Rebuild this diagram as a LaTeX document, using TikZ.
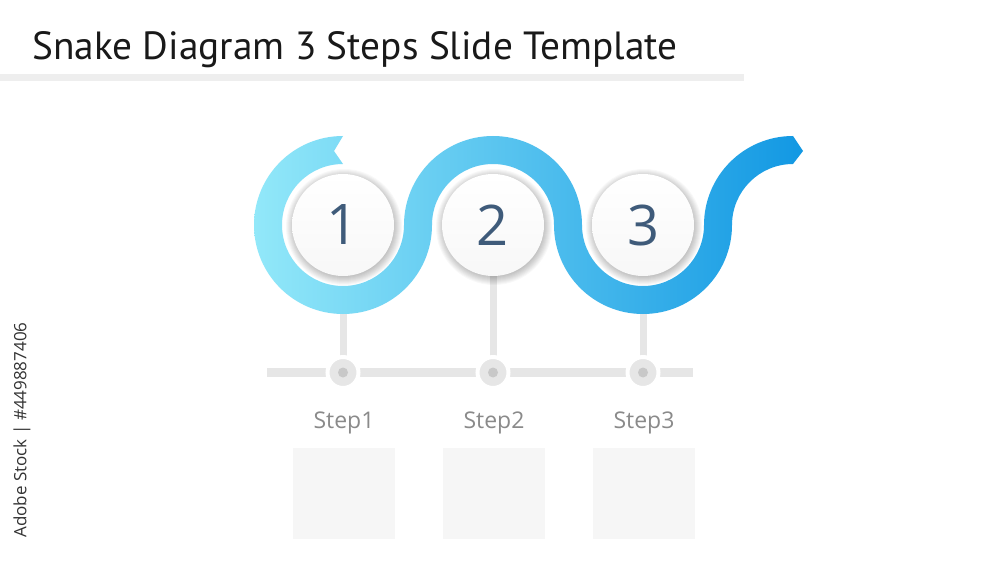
\documentclass[tikz,border=0pt]{standalone}
\usepackage{graphicx}
\usepackage{fontspec}
\setmainfont{Open Sans}
\newfontfamily\titlefont{PT Sans}
\usetikzlibrary{calc}
\pgfdeclarelayer{bg}
\pgfsetlayers{bg,main}
\definecolor{snakeL}{HTML}{92E8F9}
\definecolor{snakeR}{HTML}{1298E3}
\definecolor{numcol}{HTML}{3F5B7A}
\definecolor{linegray}{HTML}{E6E6E6}
\definecolor{dotin}{HTML}{C8C8C8}
\definecolor{labgray}{HTML}{8A8A8A}
\definecolor{boxgray}{HTML}{F6F6F6}
\definecolor{bargray}{HTML}{EEEEEE}
\definecolor{marktext}{HTML}{333333}
\tikzset{
  numcirc/.style={circle, minimum size=102pt, inner sep=0pt, top color=white, bottom color=black!3,
    text=numcol, font=\fontsize{56}{60}\selectfont},
  stemline/.style={draw=linegray, line width=7pt},
  hline/.style={draw=linegray, line width=9pt},
  dotnode/.style={circle, fill=linegray, draw=white, line width=4pt, minimum size=31pt, inner sep=0pt},
  steplabel/.style={text=labgray, inner sep=0pt, font=\fontsize{23}{26}\selectfont},
  textbox/.style={fill=boxgray, minimum width=102pt, minimum height=91pt, inner sep=0pt},
}
\begin{document}
\begin{tikzpicture}[x=1pt,y=1pt]
\useasboundingbox (0,0) rectangle (1000,563);
\begin{pgfonlayer}{bg}
\fill[white] (0,0) rectangle (1000,563);
\end{pgfonlayer}
% title and bar
\fill[bargray] (0,482) rectangle (744,489);
\node[anchor=base west, inner sep=0pt, text=black!90] (title) at (32,503)
  {\resizebox{645pt}{!}{\titlefont Snake Diagram 3 Steps Slide Template}};
% snake ribbon
\shade[left color=snakeL, right color=snakeR]
 (343,427) arc[start angle=90, end angle=360, radius=89]
 arc[start angle=180, end angle=0, radius=61]
 arc[start angle=180, end angle=360, radius=89]
 arc[start angle=180, end angle=90, radius=61]
 -- (803,412) -- (793,427)
 arc[start angle=90, end angle=180, radius=89]
 arc[start angle=360, end angle=180, radius=61]
 arc[start angle=0, end angle=180, radius=89]
 arc[start angle=360, end angle=90, radius=61]
 -- (334,412) -- cycle;
% circle shadows
\foreach \c in {343,493,643}{
  \foreach \i in {1,...,9}{
    \fill[black, opacity=0.026] (\c+1,336) circle (49+\i);
  }
}
% numbered circles
\node[numcirc] (c1) at (343,338) {1};
\node[numcirc] (c2) at (493,338) {2};
\node[numcirc] (c3) at (643,338) {3};
% timeline
\coordinate (p1) at (343,190.5);
\coordinate (p2) at (493,190.5);
\coordinate (p3) at (643,190.5);
\coordinate (tl) at (267,190.5);
\coordinate (tr) at (693,190.5);
\begin{pgfonlayer}{bg}
\draw[stemline] ($(c1.south)+(0,-20)$) -- (p1);
\draw[stemline] (c2.south) -- (p2);
\draw[stemline] ($(c3.south)+(0,-20)$) -- (p3);
\end{pgfonlayer}
\draw[hline] (tl) -- (tr);
\node[dotnode] (d1) at (p1) {};
\node[dotnode] (d2) at (p2) {};
\node[dotnode] (d3) at (p3) {};
\fill[dotin] (d1) circle (5);
\fill[dotin] (d2) circle (5);
\fill[dotin] (d3) circle (5);
% labels
\node[steplabel] (s1) at (344,140.5) {Step1};
\node[steplabel] (s2) at (494,140.5) {Step2};
\node[steplabel] (s3) at (644,140.5) {Step3};
% boxes
\node[textbox] (b1) at (344,69.5) {};
\node[textbox] (b2) at (494,69.5) {};
\node[textbox] (b3) at (643.5,69.5) {};
% side mark
\node[rotate=90, text=marktext, inner sep=0pt, font=\fontsize{17}{19}\selectfont] (mark) at (22,133) {Adobe Stock | \#449887406};
\end{tikzpicture}
\end{document}
